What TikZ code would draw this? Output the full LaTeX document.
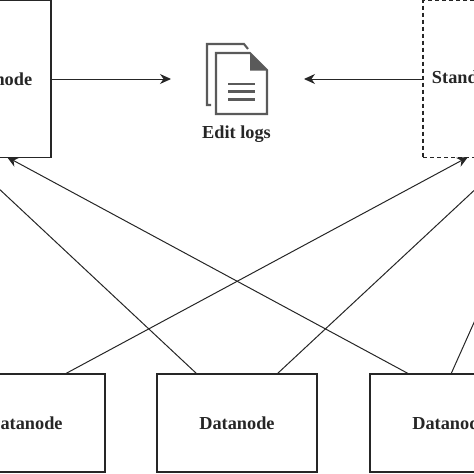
\documentclass[tikz,border=0pt]{standalone}
\usepackage{fontspec}
\setmainfont{Liberation Serif}
\usetikzlibrary{arrows.meta}
\definecolor{ink}{HTML}{262626}
\definecolor{icon}{HTML}{5A5A5A}
\tikzset{
  box/.style={draw=ink,line width=1.3pt,fill=white,inner sep=0pt,font=\bfseries\fontsize{18.3}{20}\selectfont,text=ink},
  namebox/.style={box,minimum height=157pt},
  databox/.style={box,minimum width=160pt,minimum height=98pt},
  link/.style={draw=ink,line width=1pt,-{Stealth[length=11pt,width=10pt]}},
  iconline/.style={draw=icon,line width=2.1pt}
}
\begin{document}
\begin{tikzpicture}[x=1pt,y=-1pt]
\useasboundingbox (0,0) rectangle (474,474);
\clip (0,0) rectangle (474,474);
\node[namebox,minimum width=121pt] (nn) at (-9.5,79) {Namenode};
\node[namebox,minimum width=171pt,dash pattern=on 4pt off 3pt] (sn) at (508.5,79) {Standby Namenode};
\node[databox] (d1) at (25,423) {Datanode};
\node[databox] (d2) at (237,423) {Datanode};
\node[databox] (d3) at (450,423) {Datanode};
\coordinate (logsL) at (171,79);
\coordinate (logsR) at (304,79);
\draw[link] (nn.east |- 0,79) -- (logsL);
\draw[link] (sn.west |- 0,79) -- (logsR);
\coordinate (a1) at (65,374); \coordinate (t1) at (468,157);
\coordinate (a2) at (197,374); \coordinate (t2) at (-35,157);
\coordinate (a3) at (277,374); \coordinate (t3) at (510,157);
\coordinate (a4) at (409,374); \coordinate (t4) at (7,157);
\coordinate (a5) at (451,374); \coordinate (t5) at (548,157);
\draw[link] (a1) -- (t1);
\draw[link] (a2) -- (t2);
\draw[link] (a3) -- (t3);
\draw[link] (a4) -- (t4);
\draw[link] (a5) -- (t5);
% icon
\draw[iconline] (211,105) -- (207,105) -- (207,44) -- (244,44) -- (248,49);
\draw[iconline,fill=white] (216,53) -- (250,53) -- (267,70) -- (267,114) -- (216,114) -- cycle;
\fill[icon] (250,53) -- (267,70.5) -- (250,70.5) -- cycle;
\draw[iconline] (228,84) -- (255,84) (228,91.5) -- (255,91.5) (228,99.5) -- (255,99.5);
\node[font=\bfseries\fontsize{18.3}{20}\selectfont,text=ink,inner sep=0pt] (logs) at (236.5,134) {Edit logs};
\end{tikzpicture}
\end{document}
